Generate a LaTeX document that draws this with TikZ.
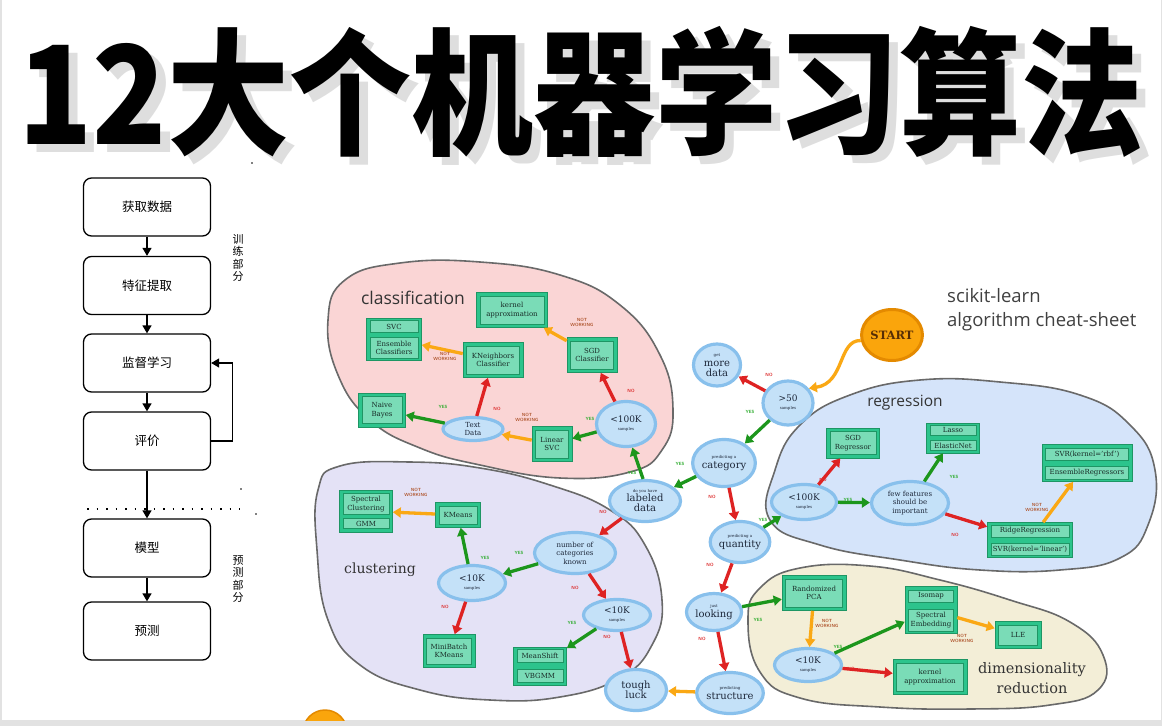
\documentclass[tikz,border=0pt]{standalone}
\usepackage{graphicx}
\usepackage{fontspec}
\setmainfont{DejaVu Serif}
\newfontfamily\cjk{Noto Sans CJK SC}
\newfontfamily\osans{Open Sans}
\usetikzlibrary{shapes.geometric,arrows.meta}
\definecolor{pinkfill}{RGB}{250,213,213}
\definecolor{lavfill}{RGB}{228,226,246}
\definecolor{bluefill}{RGB}{213,228,250}
\definecolor{beigefill}{RGB}{243,238,215}
\definecolor{blobedge}{RGB}{105,105,105}
\definecolor{ellfill}{RGB}{196,225,248}
\definecolor{ellring}{RGB}{136,192,236}
\definecolor{elltext}{RGB}{30,40,58}
\definecolor{gouter}{RGB}{44,196,140}
\definecolor{ginner}{RGB}{122,220,183}
\definecolor{gedge}{RGB}{30,150,100}
\definecolor{gtext}{RGB}{25,45,40}
\definecolor{agreen}{RGB}{28,150,28}
\definecolor{ared}{RGB}{222,35,35}
\definecolor{aorange}{RGB}{250,168,20}
\definecolor{lgreen}{RGB}{40,170,40}
\definecolor{lred}{RGB}{220,40,40}
\definecolor{lbrown}{RGB}{175,85,45}
\definecolor{startfill}{RGB}{250,165,12}
\definecolor{startring}{RGB}{228,138,0}
\definecolor{starttext}{RGB}{85,45,5}
\definecolor{framegray}{RGB}{226,226,226}
\newcommand\smt[1]{{\fontsize{4}{4}\selectfont #1}}
\newcommand\bgt[1]{{\fontsize{10}{11}\selectfont #1}}
\newcommand\mdt[1]{{\fontsize{9}{10}\selectfont #1}}
\newcommand\titletext{\scalebox{1}[1.12]{12大个机器学习算法}}
\newcommand\gbox[6]{%
 \node[gout, minimum width=#4, minimum height=#5] (#1) at (#2,#3) {};
 \node[gin, minimum width=#4-7, minimum height=#5-7] (#1t) at (#2,#3) {#6};}
\tikzset{
 title/.style={font=\cjk\bfseries\fontsize{122}{122}\selectfont, inner sep=0pt},
 fb/.style={rectangle, rounded corners=8pt, draw=black, line width=1.3pt, minimum width=127, minimum height=58, font=\cjk\fontsize{12.5}{14}\selectfont},
 farr/.style={line width=1.3pt, -{Triangle[length=8pt,width=9pt]}},
 vtext/.style={font=\cjk\fontsize{11}{12.5}\selectfont, align=center, inner sep=0pt},
 blob/.style={draw=blobedge, line width=1.6pt},
 ell/.style={ellipse, fill=ellfill, draw=ellring, line width=3.2pt, inner sep=0pt, align=center, text=elltext, font=\fontsize{10}{11}\selectfont},
 gout/.style={rectangle, fill=gouter, draw=gedge, line width=0.6pt, inner sep=0pt},
 gin/.style={rectangle, fill=ginner, draw=gedge, line width=0.5pt, inner sep=0pt, align=center, font=\fontsize{7}{8.5}\selectfont, text=gtext},
 arr/.style={line width=3.3pt, -{Triangle[length=8pt,width=10pt]}},
 ga/.style={arr, draw=agreen},
 ra/.style={arr, draw=ared},
 oa/.style={arr, draw=aorange},
 lab/.style={font=\fontsize{4.5}{5}\sffamily\bfseries, inner sep=0pt, align=center},
 lyes/.style={lab, text=lgreen},
 lno/.style={lab, text=lred},
 lnw/.style={lab, text=lbrown},
 grp/.style={inner sep=0pt, text=black!80, align=center}
}
\begin{document}
\begin{tikzpicture}[x=1pt,y=-1pt]
\useasboundingbox (0,0) rectangle (1162,726);
\fill[white] (0,0) rectangle (1162,726);
\fill[framegray] (0,720) rectangle (1162,726);
\fill[framegray] (0,0) rectangle (1.5,720);
\fill[framegray] (1160.5,0) rectangle (1162,720);

% ---------- title ----------
\node[title, text=black, text opacity=0.13] (tshadow) at (590,100) {\titletext};
\node[title] (title) at (581,92) {\titletext};

% ---------- left flowchart ----------
\node[fb] (b1) at (147,207) {获取数据};
\node[fb] (b2) at (147,285.5) {特征提取};
\node[fb] (b3) at (147,363) {监督学习};
\node[fb] (b4) at (147,441) {评价};
\node[fb] (b5) at (147,548) {模型};
\node[fb] (b6) at (147,631) {预测};
\draw[farr] (b1) -- (b2);
\draw[farr] (b2) -- (b3);
\draw[farr] (b3) -- (b4);
\draw[farr] (b4) -- (b5);
\draw[farr] (b5) -- (b6);
\draw[farr] (b4.east) -- ++(21,0) |- (b3.east);
\draw[line width=1.5pt, dash pattern=on 1.5pt off 8pt] (87,509) -- (240,509);
\node[vtext] (v1) at (238,258) {训\\练\\部\\分};
\node[vtext] (v2) at (238,579) {预\\测\\部\\分};
\fill (252,163) circle (0.8);
\fill (241,489) circle (0.8);
\fill (256,514) circle (0.8);

% ---------- blobs ----------
\draw[blob, fill=pinkfill] plot[smooth cycle, tension=0.75] coordinates {(328,320) (345,280) (400,263) (480,262) (560,275) (620,305) (660,355) (673,410) (662,450) (630,472) (560,478) (480,465) (420,448) (370,420) (338,375)};
\draw[blob, fill=lavfill] plot[smooth cycle, tension=0.75] coordinates {(318,490) (340,466) (410,462) (480,468) (550,485) (610,510) (645,545) (662,600) (652,645) (620,678) (560,697) (490,700) (420,690) (360,665) (328,620) (317,550)};
\draw[blob, fill=bluefill] plot[smooth cycle, tension=0.75] coordinates {(770,520) (775,470) (800,425) (850,395) (920,380) (1000,382) (1080,395) (1130,425) (1155,470) (1148,525) (1120,558) (1060,570) (980,570) (900,560) (820,545)};
\draw[blob, fill=beigefill] plot[smooth cycle, tension=0.75] coordinates {(748,620) (760,588) (800,568) (870,566) (940,580) (1010,600) (1070,622) (1103,655) (1098,690) (1050,705) (970,709) (880,707) (800,698) (760,672)};

\node[grp, font=\osans\fontsize{17.5}{20}\selectfont] (gclass) at (413,298) {classification};
\node[grp, font=\fontsize{14}{16}\selectfont] (gclust) at (380,570) {clustering};
\node[grp, font=\osans\fontsize{15.5}{18}\selectfont] (greg) at (905,403) {regression};
\node[grp, font=\fontsize{14.5}{20}\selectfont] (gdim) at (1032,678) {dimensionality\\reduction};
\node[grp, font=\osans\fontsize{18.5}{24}\selectfont, align=left, anchor=west, text=black!75] (sk) at (947,310) {scikit-learn\\algorithm cheat-sheet};

% ---------- orange partial circle at bottom ----------
\begin{scope}
\clip (290,700) rectangle (360,720);
\fill[startfill, draw=startring, line width=1.5pt] (325,732) circle (22);
\end{scope}

% ---------- green boxes ----------
\gbox{kap1}{512}{310}{71}{35}{kernel\\approximation}
\node[gout, minimum width=55, minimum height=42] (svcens) at (394,339) {};
\node[gin, minimum width=48, minimum height=12] (svcA) at (394,326.5) {SVC};
\node[gin, minimum width=48, minimum height=21] (svcB) at (394,348) {Ensemble\\Classifiers};
\gbox{knn}{493}{360}{60}{35}{KNeighbors\\Classifier}
\gbox{sgdc}{592}{355}{50}{35}{SGD\\Classifier}
\gbox{naive}{382}{410}{47}{34}{Naive\\Bayes}
\gbox{linsvc}{552}{444}{40}{35}{Linear\\SVC}

\node[gout, minimum width=53, minimum height=42] (specgmm) at (366,511) {};
\node[gin, minimum width=46, minimum height=21] (specA) at (366,504) {Spectral\\Clustering};
\node[gin, minimum width=46, minimum height=10] (specB) at (366,523.5) {GMM};
\gbox{kmeans}{458}{515}{45}{25}{KMeans}
\gbox{minibatch}{449}{651}{52}{33}{MiniBatch\\KMeans}
\node[gout, minimum width=53, minimum height=38] (meanvb) at (540,666) {};
\node[gin, minimum width=46, minimum height=13] (meanA) at (540,656) {MeanShift};
\node[gin, minimum width=46, minimum height=13] (meanB) at (540,675.5) {VBGMM};

\gbox{sgdr}{853}{443}{53}{30}{SGD\\Regressor}
\node[gout, minimum width=53, minimum height=30] (lassoen) at (953,438) {};
\node[gin, minimum width=46, minimum height=10] (lasA) at (953,430) {Lasso};
\node[gin, minimum width=46, minimum height=10] (lasB) at (953,445.5) {ElasticNet};
\node[gout, minimum width=90, minimum height=37] (svrens) at (1087,463) {};
\node[gin, minimum width=83, minimum height=12] (svrA) at (1087,454) {SVR(kernel='rbf')};
\node[gin, minimum width=83, minimum height=13] (svrB) at (1087,472.5) {EnsembleRegressors};
\node[gout, minimum width=85, minimum height=35] (ridge) at (1030,540) {};
\node[gin, minimum width=78, minimum height=12] (ridA) at (1030,531) {RidgeRegression};
\node[gin, minimum width=78, minimum height=12] (ridB) at (1030,549) {SVR(kernel='linear')};

\gbox{rpca}{814}{593}{64}{35}{Randomized\\PCA}
\node[gout, minimum width=52, minimum height=47] (isospec) at (931,610) {};
\node[gin, minimum width=45, minimum height=12] (isoA) at (931,596) {Isomap};
\node[gin, minimum width=45, minimum height=22] (isoB) at (931,620) {Spectral\\Embedding};
\gbox{lle}{1018}{635}{46}{27}{LLE}
\gbox{kap2}{930}{677}{74}{35}{kernel\\approximation}

% ---------- ellipses ----------
\node[ellipse, fill=startfill, draw=startring, line width=3pt, minimum width=59, minimum height=51, inner sep=0pt, text=starttext, font=\bfseries\fontsize{11.5}{12}\selectfont] (start) at (892,335) {START};
\node[ell, minimum width=47, minimum height=42] (moredata) at (717,365) {\smt{get}\\[-1pt]\bgt{more}\\[-1pt]\bgt{data}};
\node[ell, minimum width=50, minimum height=44] (gt50) at (788,403) {\mdt{>50}\\[-3pt]\smt{samples}};
\node[ell, minimum width=59, minimum height=47] (category) at (724,463) {\smt{predicting a}\\[-1pt]\bgt{category}};
\node[ell, minimum width=71, minimum height=41] (labeled) at (645,501) {\smt{do you have}\\[-2pt]\bgt{labeled}\\[-1pt]\bgt{data}};
\node[ell, minimum width=53, minimum height=41] (quantity) at (740,542) {\smt{predicting a}\\[-1pt]\bgt{quantity}};
\node[ell, minimum width=55, minimum height=37] (looking) at (714,612) {\smt{just}\\[-1pt]\bgt{looking}};
\node[ell, minimum width=61, minimum height=41] (structure) at (730,693) {\smt{predicting}\\[-1pt]\bgt{structure}};
\node[ell, minimum width=61, minimum height=41] (tough) at (636,690) {\bgt{tough}\\[-1pt]\bgt{luck}};
\node[ell, minimum width=59, minimum height=45] (c100) at (626,424) {\mdt{<100K}\\[-3pt]\smt{samples}};
\node[ell, minimum width=60, minimum height=23, font=\fontsize{7}{8}\selectfont] (textdata) at (473,429) {Text\\Data};
\node[ell, minimum width=81, minimum height=41, font=\fontsize{7}{8.5}\selectfont] (ncat) at (575,553) {number of\\categories\\known};
\node[ell, minimum width=67, minimum height=35] (k10a) at (472,583) {\mdt{<10K}\\[-3pt]\smt{samples}};
\node[ell, minimum width=67, minimum height=31] (k10b) at (617,615) {\mdt{<10K}\\[-3pt]\smt{samples}};
\node[ell, minimum width=65, minimum height=35] (r100) at (804,502) {\mdt{<100K}\\[-3pt]\smt{samples}};
\node[ell, minimum width=77, minimum height=43, font=\fontsize{7}{8.5}\selectfont] (few) at (910,503) {few features\\should be\\important};
\node[ell, minimum width=67, minimum height=33] (k10c) at (808,665) {\mdt{<10K}\\[-3pt]\smt{samples}};

% ---------- arrows ----------
\draw[ga] (c100) -- (linsvc);
\draw[oa] (linsvc) -- (textdata);
\draw[ga] (textdata) -- (naive);
\draw[ra] (textdata) -- (knn);
\draw[ra] (c100) -- (sgdc);
\draw[oa] (sgdc) -- (kap1);
\draw[oa] (knn) -- (svcens);
\draw[oa] (start.190) .. controls (838,340) and (845,383) .. (gt50.35);
\draw[ra] (gt50) -- (moredata);
\draw[ga] (gt50) -- (category);
\draw[ga] (category) -- (labeled);
\draw[ra] (category) -- (quantity);
\draw[ga] (labeled.95) -- (c100.-75);
\draw[ra] (labeled) -- (ncat);
\draw[ga] (quantity) -- (r100);
\draw[ra] (quantity) -- (looking);
\draw[ra] (looking) -- (structure);
\draw[oa] (structure) -- (tough);
\draw[ga] (looking) -- (rpca);
\draw[ga] (ncat) -- (k10a);
\draw[ra] (ncat) -- (k10b);
\draw[ga] (k10a) -- (kmeans);
\draw[oa] (kmeans) -- (specgmm);
\draw[ra] (k10a) -- (minibatch);
\draw[ga] (k10b) -- (meanvb);
\draw[ra] (k10b) -- (tough);
\draw[ra] (r100) -- (sgdr);
\draw[ga] (r100) -- (few);
\draw[ga] (few) -- (lassoen);
\draw[ra] (few) -- (ridge);
\draw[oa] (ridge) -- (svrens);
\draw[oa] (rpca) -- (k10c);
\draw[ga] (k10c) -- (isospec);
\draw[ra] (k10c) -- (kap2);
\draw[oa] (isospec) -- (lle);

% ---------- arrow labels ----------
\node[lyes] (t1) at (590,419) {YES};
\node[lnw] (t2) at (527,417) {NOT\\WORKING};
\node[lyes] (t3) at (443,407) {YES};
\node[lno] (t4) at (497,409) {NO};
\node[lno] (t5) at (631,391) {NO};
\node[lnw] (t6) at (582,322) {NOT\\WORKING};
\node[lnw] (t7) at (445,356) {NOT\\WORKING};
\node[lyes] (t8) at (632,473) {YES};
\node[lno] (t9) at (769,375) {NO};
\node[lyes] (t10) at (750,412) {YES};
\node[lyes] (t11) at (680,464) {YES};
\node[lno] (t12) at (712,497) {NO};
\node[lyes] (t13) at (763,520) {YES};
\node[lno] (t14) at (603,512) {NO};
\node[lno] (t15) at (710,565) {NO};
\node[lno] (t16) at (702,639) {NO};
\node[lyes] (t17) at (758,620) {YES};
\node[lyes] (t18) at (519,553) {YES};
\node[lno] (t19) at (575,588) {NO};
\node[lyes] (t20) at (485,558) {YES};
\node[lnw] (t21) at (416,492) {NOT\\WORKING};
\node[lno] (t22) at (445,607) {NO};
\node[lyes] (t23) at (572,623) {YES};
\node[lno] (t24) at (607,637) {NO};
\node[lno] (t25) at (823,480) {NO};
\node[lyes] (t26) at (848,500) {YES};
\node[lyes] (t27) at (954,477) {YES};
\node[lno] (t28) at (955,535) {NO};
\node[lnw] (t29) at (1037,507) {NOT\\WORKING};
\node[lnw] (t30) at (827,623) {NOT\\WORKING};
\node[lyes] (t31) at (838,647) {YES};
\node[lno] (t32) at (851,669) {NO};
\node[lnw] (t33) at (962,638) {NOT\\WORKING};
\end{tikzpicture}
\end{document}
